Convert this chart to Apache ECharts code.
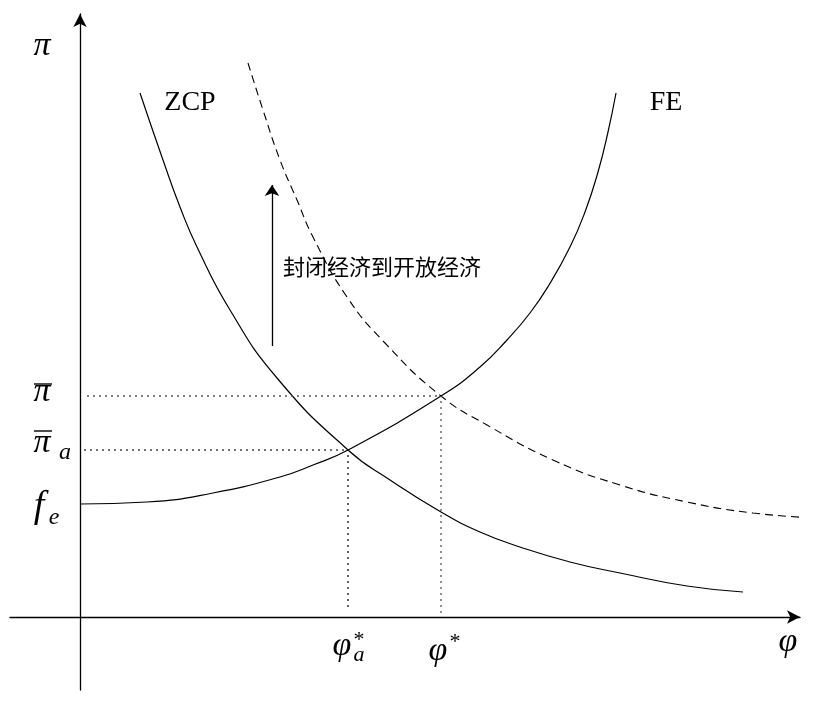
<!DOCTYPE html>
<html>
<head>
<meta charset="utf-8">
<title>ZCP FE</title>
<script src="https://cdn.jsdelivr.net/npm/echarts@6/dist/echarts.min.js"></script>
<style>
  html, body { margin: 0; padding: 0; background: #fff; }
  #chart { width: 834px; height: 702px; }
</style>
</head>
<body>
<div id="chart"></div>
<script>
// 曲线数据（横轴 φ，纵轴 π）
const zcpCurve = [
  [0.60, 5.24], [0.83, 4.57], [1.00, 4.10], [1.17, 3.70], [1.50, 3.07],
  [1.97, 2.39], [2.68, 1.67], [3.10, 1.37], [3.61, 1.05], [4.00, 0.85],
  [4.40, 0.70], [4.90, 0.55], [5.40, 0.44], [6.07, 0.31], [6.63, 0.25]
];
const feCurve = [
  [0.00, 1.13], [0.67, 1.15], [1.33, 1.24], [2.00, 1.40], [2.33, 1.52],
  [2.68, 1.67], [3.61, 2.21], [4.00, 2.50], [4.27, 2.77], [4.50, 3.04],
  [4.69, 3.32], [4.90, 3.70], [5.05, 4.05], [5.18, 4.45], [5.28, 4.85],
  [5.36, 5.24]
];
const zcpOpenCurve = [
  [1.68, 5.54], [1.83, 5.07], [2.00, 4.57], [2.17, 4.17], [2.33, 3.80],
  [2.67, 3.20], [3.05, 2.74], [3.61, 2.21], [4.07, 1.92], [4.73, 1.57],
  [5.40, 1.32], [6.07, 1.15], [6.73, 1.04], [7.37, 0.99]
];

// 均衡点
const phiStarA = 2.68;
const piBarA = 1.67;
const phiStar = 3.61;
const piBar = 2.21;

// 箭头：封闭经济到开放经济
const shiftArrow = [[1.92, 2.71], [1.92, 4.32]];
const shiftText = '封闭经济到开放经济';

const chart = echarts.init(document.getElementById('chart'));

const solid = { color: '#000', width: 1.2 };
const dotted = (color) => ({ color: color, width: 1.3, type: [2, 4] });

function label(x, y, text, size, italic) {
  return {
    type: 'text',
    x: x,
    y: y,
    style: {
      text: text,
      fontFamily: 'Liberation Serif',
      fontStyle: italic ? 'italic' : 'normal',
      fontSize: size,
      fill: '#000',
      textAlign: 'center',
      textVerticalAlign: 'middle'
    }
  };
}

// π 上的横线
function bar(x1, x2, y) {
  return {
    type: 'line',
    shape: { x1: x1, y1: y, x2: x2, y2: y },
    style: { stroke: '#000', lineWidth: 1.4 }
  };
}

function curve(name, data, lineStyle) {
  return {
    name: name,
    type: 'line',
    data: data,
    smooth: 0.5,
    symbol: 'none',
    lineStyle: lineStyle
  };
}

function guide(data, color) {
  return {
    type: 'line',
    data: data,
    symbol: 'none',
    lineStyle: dotted(color)
  };
}

const axisCommon = {
  type: 'value',
  axisLine: {
    onZero: true,
    symbol: ['none', 'arrow'],
    symbolSize: [10, 13],
    lineStyle: { color: '#000', width: 1.3 }
  },
  axisTick: { show: false },
  axisLabel: { show: false },
  splitLine: { show: false }
};

const option = {
  animation: false,
  backgroundColor: '#fff',
  grid: { left: 10, right: 34, top: 14, bottom: 12 },
  xAxis: Object.assign({ min: -0.7, max: 7.2 }, axisCommon),
  yAxis: Object.assign({ min: -0.73, max: 6.03 }, axisCommon),
  series: [
    curve('ZCP', zcpCurve, solid),
    curve('FE', feCurve, solid),
    curve('ZCP open', zcpOpenCurve, { color: '#000', width: 1.1, type: [8, 5] }),
    // 虚线辅助线
    guide([[0.07, piBar], [phiStar, piBar]], '#555'),
    guide([[0.04, piBarA], [phiStarA, piBarA]], '#444'),
    guide([[phiStarA, 0.1], [phiStarA, piBarA]], '#111'),
    guide([[phiStar, 0.04], [phiStar, piBar]], '#555'),
    {
      type: 'lines',
      coordinateSystem: 'cartesian2d',
      symbol: ['none', 'arrow'],
      symbolSize: 11,
      lineStyle: { color: '#000', width: 1.3, opacity: 1 },
      data: [{ coords: shiftArrow }]
    }
  ],
  graphic: [
    label(42, 46, 'π', 34, true),
    label(42, 392, 'π', 34, true),
    bar(34, 52, 384),
    label(42, 443, 'π', 34, true),
    bar(34, 52, 431),
    label(65, 453, 'a', 24, true),
    label(39, 507, 'f', 38, true),
    label(54, 518, 'e', 24, true),
    label(342, 646, 'φ', 34, true),
    label(359, 655, 'a', 22, true),
    label(359, 640, '*', 22, false),
    label(438, 651, 'φ', 34, true),
    label(455, 642, '*', 22, false),
    label(788, 642, 'φ', 34, true),
    label(190, 103, 'ZCP', 28, false),
    label(666, 103, 'FE', 28, false),
    {
      type: 'text',
      x: 283,
      y: 267,
      style: {
        text: shiftText,
        fontFamily: 'Noto Sans CJK SC',
        fontSize: 22,
        fill: '#000',
        textAlign: 'left',
        textVerticalAlign: 'middle'
      }
    }
  ]
};

chart.setOption(option);
</script>
</body>
</html>
